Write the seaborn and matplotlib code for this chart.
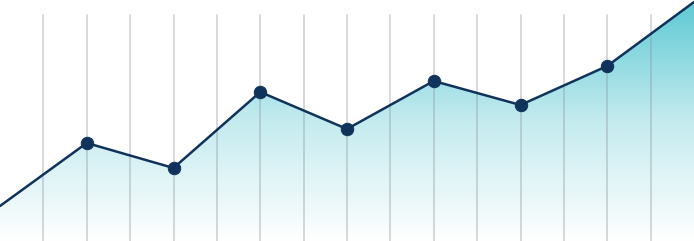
import numpy as np
import pandas as pd
import matplotlib
matplotlib.use("Agg")
import matplotlib.pyplot as plt
import seaborn as sns
from matplotlib.colors import LinearSegmentedColormap

# data
positions = [0, 2, 4, 6, 8, 10, 12, 14, 16]
values = [35, 98, 73, 149, 112, 160, 136, 175, 239]
marker_positions = [2, 4, 6, 8, 10, 12, 14]
marker_values = [98, 73, 149, 112, 160, 136, 175]
grid_positions = list(range(1, 16))

df = pd.DataFrame({"x": positions, "y": values})
dm = pd.DataFrame({"x": marker_positions, "y": marker_values})

sns.set_theme(style="white")
fig = plt.figure(figsize=(6.94, 2.41), dpi=100)
ax = fig.add_axes([0, 0, 1, 1])
ax.set_xlim(0, 16)
ax.set_ylim(0, 241)

# gradient fill under line
cmap = LinearSegmentedColormap.from_list("g", ["#ffffff", "#c4ebef", "#5dc9d4"])
grad = np.linspace(0, 1, 256).reshape(-1, 1)
poly = ax.fill_between(df["x"], df["y"], 0, color="none", lw=0)
im = ax.imshow(grad, cmap=cmap, origin="lower", aspect="auto",
               extent=[0, 16, 0, 241], zorder=1)
path = poly.get_paths()[0]
im.set_clip_path(path, transform=ax.transData)

# vertical grid lines
for g in grid_positions:
    ax.axvline(g, ymin=0, ymax=226 / 241, color="#8a929a", alpha=0.35, lw=1.4, zorder=2)

sns.lineplot(data=df, x="x", y="y", ax=ax, color="#10335c", lw=1.8, zorder=3)
sns.scatterplot(data=dm, x="x", y="y", ax=ax, color="#10335c", s=80,
                edgecolor="#10335c", zorder=4)

ax.set_axis_off()
fig.savefig("out.png", dpi=100)
